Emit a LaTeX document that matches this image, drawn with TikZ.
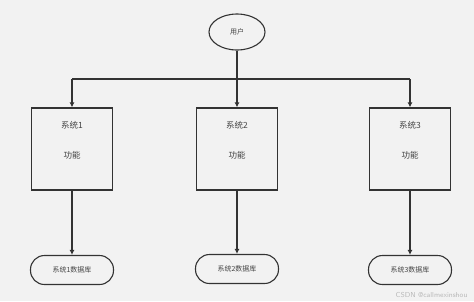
\documentclass[tikz,border=0pt]{standalone}
\usepackage{fontspec}
\newfontfamily\cjk{Noto Sans CJK SC}
\usetikzlibrary{arrows.meta,shapes.geometric}

\definecolor{sysBack}{HTML}{F2F2F2}
\definecolor{sysLine}{HTML}{333333}
\definecolor{sysText}{HTML}{444444}
\definecolor{sysMark}{HTML}{B8B8B8}

\tikzset{
  sysbox/.style={draw=sysLine,line width=1.3pt,minimum width=81pt,minimum height=82pt,inner sep=0pt},
  dbbox/.style={draw=sysLine,line width=1.1pt,rounded corners=14pt,minimum width=83pt,minimum height=29pt,inner sep=0pt,font=\cjk\fontsize{7}{8}\selectfont,text=sysText},
  flow/.style={draw=sysLine,line width=1.3pt,-{Latex[length=5pt,width=5pt]}}
}

\begin{document}
\begin{tikzpicture}[x=1pt,y=-1pt,font=\cjk\fontsize{8.5}{10}\selectfont]
  \fill[sysBack] (0,0) rectangle (474,301);
  \useasboundingbox (0,0) rectangle (474,301);
  % user
  \node[draw=sysLine,line width=1.1pt,ellipse,minimum width=56pt,minimum height=36pt,inner sep=0pt,
        font=\cjk\fontsize{7}{8}\selectfont,text=sysText] (user) at (237,32) {用户};
  % systems
  \node[sysbox] (sys1) at (72,149) {};
  \node[sysbox] (sys2) at (237,149) {};
  \node[sysbox] (sys3) at (410,149) {};
  \node[text=sysText] (name1) at (72,125) {系统1};
  \node[text=sysText] (func1) at (72,155) {功能};
  \node[text=sysText] (name2) at (237,125) {系统2};
  \node[text=sysText] (func2) at (237,155) {功能};
  \node[text=sysText] (name3) at (410,125) {系统3};
  \node[text=sysText] (func3) at (410,155) {功能};
  % databases
  \node[dbbox] (db1) at (72,270) {系统1数据库};
  \node[dbbox] (db2) at (237,269) {系统2数据库};
  \node[dbbox] (db3) at (410,270) {系统3数据库};
  % bus
  \coordinate (busL) at (72,79);
  \coordinate (busR) at (410,79);
  \draw[sysLine,line width=1.3pt] (busL) -- (busR);
  \draw[flow] (user.south) -- (sys2.north);
  \draw[flow] (busL) -- (sys1.north);
  \draw[flow] (busR) -- (sys3.north);
  \draw[flow] (sys1.south) -- (db1.north);
  \draw[flow] (sys2.south) -- (db2.north);
  \draw[flow] (sys3.south) -- (db3.north);
  \node[anchor=east,text=sysMark,font=\sffamily\fontsize{7.2}{8}\selectfont] (mark) at (471,295) {CSDN @callmexinshou};
\end{tikzpicture}
\end{document}
